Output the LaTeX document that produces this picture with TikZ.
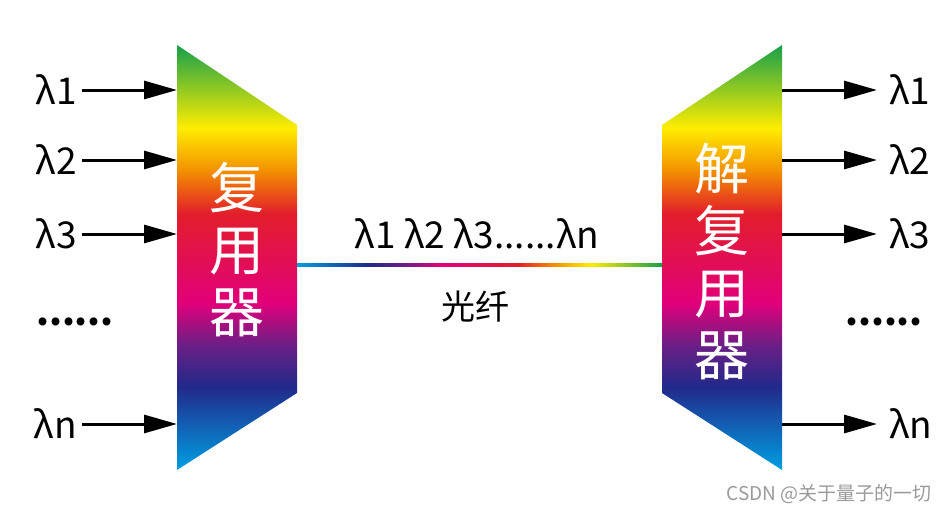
\documentclass[tikz,border=0pt]{standalone}
\usepackage{fontspec}
\setmainfont{Noto Sans CJK SC}
\usetikzlibrary{arrows.meta}
\definecolor{RBc}{HTML}{009FE3}
\definecolor{RBb}{HTML}{21298A}
\definecolor{RBp}{HTML}{6B1F86}
\definecolor{RBm}{HTML}{E2007A}
\definecolor{RBr}{HTML}{E31E2B}
\definecolor{RBo}{HTML}{F39200}
\definecolor{RBy}{HTML}{FFED00}
\definecolor{RBg}{HTML}{16A04A}
\definecolor{WM}{HTML}{9A9A9A}
\pgfdeclareverticalshading{RBV}{100bp}{color(0bp)=(RBc); color(25bp)=(RBc);
    color(34.8bp)=(RBb); color(39.7bp)=(RBp); color(44.6bp)=(RBm);
    color(55.2bp)=(RBr); color(60.3bp)=(RBo); color(65.2bp)=(RBy);
    color(75bp)=(RBg); color(100bp)=(RBg)}
\pgfdeclarehorizontalshading{RBH}{100bp}{color(0bp)=(RBc); color(25bp)=(RBc);
    color(34.8bp)=(RBb); color(39.7bp)=(RBp); color(44.6bp)=(RBm);
    color(55.2bp)=(RBr); color(60.3bp)=(RBo); color(65.2bp)=(RBy);
    color(75bp)=(RBg); color(100bp)=(RBg)}
\tikzset{
    AR/.style ={line width=1.5pt,-{Triangle[length=16.5pt,width=9pt]}},
    LA/.style ={inner sep=0pt,font=\fontsize{18.5}{22}\selectfont},
    DT/.style ={inner sep=0pt,font=\fontsize{18.5}{22}\selectfont\bfseries},
    MU/.style ={inner sep=0pt,text=white,align=center,font=\fontsize{27.5}{31}\selectfont},
    FB/.style ={inner sep=0pt,font=\fontsize{17}{20}\selectfont}}

\begin{document}
\begin{tikzpicture}[x=0.5pt,y=-0.5pt]
        \useasboundingbox (0,0) rectangle (949,514);
        % multiplexer and demultiplexer
        \shade[shading=RBV] (177,45)--(297,125)--(297,393)--(177,470)--cycle;
        \shade[shading=RBV] (782,45)--(782,470)--(662,393)--(662,125)--cycle;
        \coordinate (muxL) at (177,265);
        \coordinate (muxR) at (297,265);
        \coordinate (demL) at (662,265);
        \coordinate (demR) at (782,265);
        \node[MU] (mux) at (237,250){复\\用\\器};
        \node[MU] (dem) at (722,262){解\\复\\用\\器};
        % fibre
        \shade[shading=RBH] ([yshift=-0.75pt]muxR) rectangle ([yshift=0.75pt]demL);
        \node[LA] (wl) at (477,234){λ1 λ2 λ3......λn};
        \node[FB] (fb) at (475,307){光纤};
        % inputs and outputs
        \foreach \y/\t in {90/1,160/2,234/3,424/n}{
            \node[LA,anchor=east] (a\t) at (77,\y){λ\t};
            \draw[AR,shorten <=2.5pt] (a\t.east)--(a\t.east -| muxL);
            \node[LA,anchor=west] (b\t) at (889,\y){λ\t};
            \draw[AR,shorten >=6pt] (b\t.west -| demR)--(b\t.west);}
        \node[DT] (da) at (75,322){......};
        \node[DT] (db) at (884,322){......};
        \node[inner sep=0pt,text=WM,font=\fontsize{9.5}{11}\selectfont] (wm) at (829,494){CSDN @关于量子的一切};
    \end{tikzpicture}
\end{document}
